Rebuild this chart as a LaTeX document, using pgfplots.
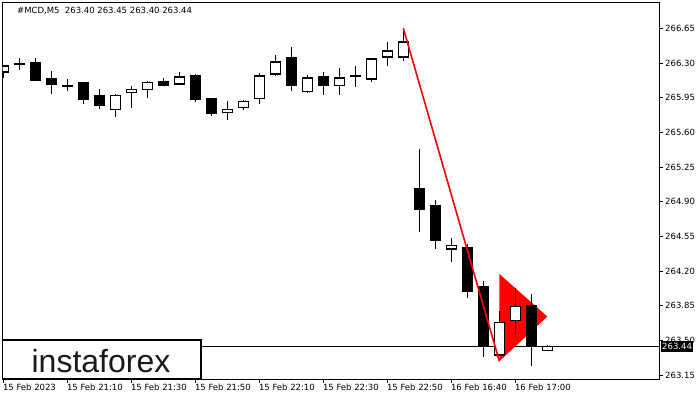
\documentclass[border=0pt]{standalone}
\usepackage{fontspec}
\setmainfont{DejaVu Sans}
\setsansfont{Liberation Sans}
\usepackage{pgfplots}
\pgfplotsset{compat=1.18}
\usepackage{pgfplotstable}

\pgfplotstableread{
x o h l c
0 266.21 266.27 266.15 266.27
1 266.29 266.35 266.23 266.29
2 266.30 266.35 266.12 266.13
3 266.14 266.22 265.99 266.08
4 266.07 266.14 266.02 266.07
5 266.10 266.10 265.89 265.93
6 265.97 266.04 265.84 265.87
7 265.83 265.99 265.75 265.97
8 266.00 266.07 265.85 266.03
9 266.03 266.12 265.95 266.10
10 266.11 266.15 266.07 266.075
11 266.085 266.21 266.075 266.156
12 266.17 266.19 265.91 265.93
13 265.94 265.94 265.76 265.79
14 265.80 265.92 265.72 265.83
15 265.85 265.93 265.83 265.91
16 265.94 266.20 265.89 266.17
17 266.19 266.38 266.17 266.31
18 266.35 266.46 266.02 266.07
19 266.01 266.18 266.00 266.15
20 266.16 266.21 265.98 266.07
21 266.07 266.25 265.98 266.15
22 266.17 266.27 266.06 266.17
23 266.14 266.34 266.11 266.34
24 266.36 266.51 266.27 266.42
25 266.36 266.65 266.32 266.51
26 265.03 265.43 264.59 264.82
27 264.86 264.92 264.42 264.51
28 264.42 264.53 264.29 264.46
29 264.43 264.47 263.93 264.00
30 264.04 264.10 263.33 263.45
31 263.35 263.80 263.34 263.68
32 263.70 264.03 263.56 263.84
33 263.85 263.97 263.24 263.44
34 263.40 263.45 263.40 263.44
}\candles

\begin{document}
\begin{tikzpicture}[x=1pt,y=1pt,font=\fontsize{8.5}{10}\selectfont]
\useasboundingbox (0,0) rectangle (700,400);
\begin{axis}[
  at={(2.5pt,21pt)}, anchor=south west,
  scale only axis, width=656.5pt, height=377pt,
  xmin=-0.05, xmax=40.98, ymin=263.11, ymax=266.915,
  axis line style={black, line width=0.8pt},
  tick align=outside, major tick length=3.5pt,
  tick style={black, line width=0.8pt},
  xtick={0,4,8,12,16,20,24,28,32},
  xticklabels={15 Feb 2023,15 Feb 21:10,15 Feb 21:30,15 Feb 21:50,15 Feb 22:10,15 Feb 22:30,15 Feb 22:50,16 Feb 16:40,16 Feb 17:00},
  xtick pos=bottom,
  xticklabel style={anchor=north west, inner sep=0pt, yshift=-1.5pt, xshift=-0.5pt},
  ytick={263.15,263.50,263.85,264.20,264.55,264.90,265.25,265.60,265.95,266.30,266.65},
  ytick pos=right, yticklabel pos=right,
  yticklabel style={anchor=west, inner sep=0pt, xshift=2.5pt, /pgf/number format/.cd, fixed, fixed zerofill, precision=2, assume math mode=true},
  scaled y ticks=false,
  unbounded coords=discard,
]
% horizontal price line
\addplot[black, line width=0.8pt] coordinates {(-1,263.44) (42,263.44)};
% pennant triangle
\addplot[fill=red, draw=none] coordinates {(31,264.17) (31,263.29) (34,263.74)} --cycle;
% wicks
\addplot[draw=none, mark=none, error bars/.cd, y dir=both, y explicit, error mark=none,
  error bar style={draw=black, line width=1pt}]
  table[x=x, y expr={0.5*(\thisrow{h}+\thisrow{l})}, y error expr={0.5*(\thisrow{h}-\thisrow{l})}] {\candles};
% bearish and doji bodies (black)
\addplot[draw=none, mark=none, error bars/.cd, y dir=both, y explicit, error mark=none,
  error bar style={draw=black, line width=11pt}]
  table[x=x, y expr={\thisrow{c}>\thisrow{o} ? nan : 0.5*(\thisrow{o}+\thisrow{c})}, y error expr={0.5*abs(\thisrow{c}-\thisrow{o})+0.0075}] {\candles};
% bullish bodies outline
\addplot[draw=none, mark=none, error bars/.cd, y dir=both, y explicit, error mark=none,
  error bar style={draw=black, line width=11pt}]
  table[x=x, y expr={\thisrow{c}>\thisrow{o} ? 0.5*(\thisrow{o}+\thisrow{c}) : nan}, y error expr={0.5*abs(\thisrow{c}-\thisrow{o})+0.0075}] {\candles};
% bullish bodies fill
\addplot[draw=none, mark=none, error bars/.cd, y dir=both, y explicit, error mark=none,
  error bar style={draw=white, line width=8.6pt}]
  table[x=x, y expr={\thisrow{c}>\thisrow{o} ? 0.5*(\thisrow{o}+\thisrow{c}) : nan}, y error expr={0.5*abs(\thisrow{c}-\thisrow{o})-0.0075}] {\candles};
% trend line
\addplot[red, line width=1.6pt] coordinates {(25,266.65) (31,263.29)};
\coordinate (pricept) at (axis cs:40.98,263.44);
\end{axis}
\node[anchor=west, inner xsep=1.5pt, inner ysep=2pt, fill=black, text=white] at ([xshift=1.5pt]pricept) {263.44};
\node[anchor=west, inner sep=0pt] at (17,389) {\#MCD,M5\ \ 263.40 263.45 263.40 263.44};
\draw[black, line width=1.6pt, fill=white] (2.5,21) rectangle (201,60);
\node[text=black!90, font=\sffamily\fontsize{32}{34}\selectfont, inner sep=0pt, anchor=base] at (101,28) {instaforex};
\end{tikzpicture}
\end{document}
